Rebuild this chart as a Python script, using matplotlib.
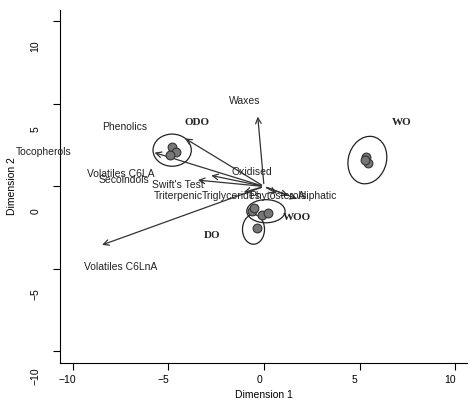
import matplotlib.pyplot as plt
from matplotlib.patches import Ellipse
from matplotlib.transforms import ScaledTranslation

# loading arrows (from origin)
origin = (0.0, 0.0)
arrow_ends_x = [-0.34, -4.25, -5.86, -2.9, -3.6, -8.6, 1.85, -1.2, 0.8, 1.4]
arrow_ends_y = [4.4, 3.0, 2.1, 0.7, 0.4, -3.6, -0.8, -0.4, -0.5, -0.6]

var_names = ["Waxes", "Phenolics", "Tocopherols", "Volatiles C6LA", "Secoindols",
             "Swift's Test", "Oxidised", "Triterpenic", "Triglycerides",
             "Phytosterols", "Aliphatic", "Volatiles C6LnA"]
var_x = [-1.0, -7.3, -11.5, -7.5, -7.3, -4.5, -0.65, -4.5, -1.7, 0.7, 2.8, -7.5]
var_y = [5.2, 3.6, 2.1, 0.75, 0.4, 0.1, 0.85, -0.6, -0.6, -0.6, -0.6, -4.9]

group_names = ["ODO", "WO", "WOO", "DO"]
group_x = [-3.5, 7.2, 1.7, -2.7]
group_y = [3.9, 3.9, -1.9, -3.0]

ell_x = [-4.8, 5.4, 0.1, -0.55]
ell_y = [2.2, 1.6, -1.5, -2.6]
ell_w = [2.0, 2.0, 2.0, 1.15]
ell_h = [1.95, 2.9, 1.4, 1.8]
ell_ang = [0, -10, 0, 0]

pt_x = [-4.8, -4.6, -4.9, 5.35, 5.45, 5.3, -0.65, -0.13, 0.2, -0.5, -0.35]
pt_y = [2.4, 2.1, 1.9, 1.8, 1.45, 1.6, -1.5, -1.7, -1.6, -1.3, -2.5]

fig, ax = plt.subplots(figsize=(4.74, 4.13), dpi=100)
fig.subplots_adjust(left=0.127, right=0.985, top=0.976, bottom=0.121)

font = "Liberation Sans"
for ex, ey in zip(arrow_ends_x, arrow_ends_y):
    ax.annotate("", xy=(ex, ey), xytext=origin,
                arrowprops=dict(arrowstyle="->", color="#333333", lw=0.9))

for name, x, y in zip(var_names, var_x, var_y):
    ax.text(x, y, name, fontsize=7.5, family=font, ha="center", va="center",
            color="#222222", clip_on=False)

for name, x, y in zip(group_names, group_x, group_y):
    ax.text(x, y, name, fontsize=8, fontweight="bold", family="Liberation Serif",
            ha="center", va="center", color="#222222")

for x, y, w, h, a in zip(ell_x, ell_y, ell_w, ell_h, ell_ang):
    ax.add_patch(Ellipse((x, y), w, h, angle=a, fill=False, ec="#222222", lw=0.9))

ax.scatter(pt_x, pt_y, s=40, c="#777777", edgecolors="#333333", linewidths=0.8, zorder=3)

ax.set_xlim(-10.65, 10.6)
ax.set_ylim(-10.7, 10.7)
ax.set_xticks([-10, -5, 0, 5, 10])
ax.set_yticks([-10, -5, 0, 5, 10])
ax.tick_params(axis="y", labelrotation=90, labelsize=7.5, length=5)
ax.tick_params(axis="x", labelsize=7.5, length=5)
for lbl in ax.get_yticklabels():
    lbl.set_va("center")
    lbl.set_family(font)
    lbl.set_transform(lbl.get_transform() + ScaledTranslation(-0.08, -0.25, fig.dpi_scale_trans))
for lbl in ax.get_xticklabels():
    lbl.set_family(font)
    lbl.set_transform(lbl.get_transform() + ScaledTranslation(-0.05, 0, fig.dpi_scale_trans))
ax.spines["top"].set_visible(False)
ax.spines["right"].set_visible(False)
ax.set_xlabel("Dimension 1", fontsize=7.5, family=font, labelpad=4)
ax.set_ylabel("Dimension 2", fontsize=7.5, family=font, labelpad=10)

fig.savefig("out.png", dpi=100)
